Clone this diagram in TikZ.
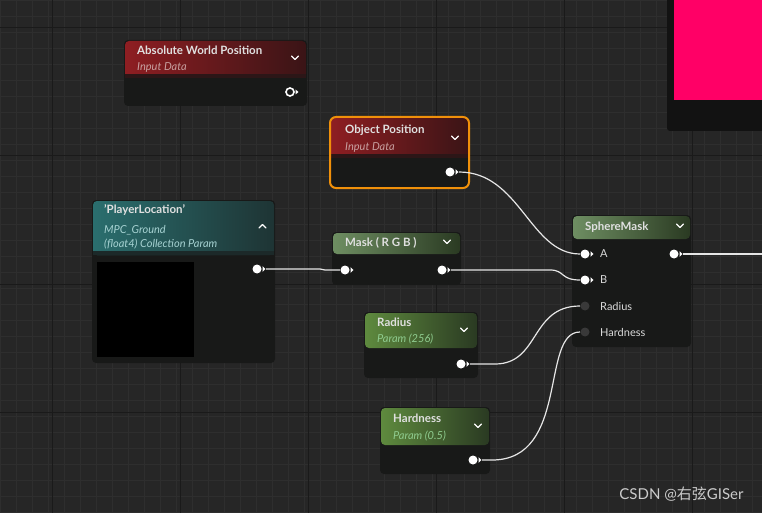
\documentclass[tikz,border=0pt]{standalone}
\usepackage{fontspec}
\setmainfont{Lato}
\newfontfamily\cjk{Noto Sans CJK SC}
\usetikzlibrary{calc}
\definecolor{bg}{HTML}{262626}
\definecolor{gminor}{HTML}{2E2E2E}
\definecolor{gmajor}{HTML}{1A1A1A}
\definecolor{body}{HTML}{181918}
\definecolor{redh}{HTML}{8E1E22}
\definecolor{redd}{HTML}{3A1416}
\definecolor{tealh}{HTML}{2A6E6E}
\definecolor{teald}{HTML}{1E3434}
\definecolor{greenh}{HTML}{5E8A3E}
\definecolor{greend}{HTML}{2A3A22}
\definecolor{mgreen}{HTML}{6E8E62}
\definecolor{sub}{HTML}{C8A0A0}
\definecolor{wire}{HTML}{E6E6E6}
\definecolor{pink}{HTML}{FF0066}
\definecolor{sel}{HTML}{F0900A}
\definecolor{prev}{HTML}{121212}
\tikzset{
  x=1pt,y=-1pt,
  title/.style={anchor=west,text=white!88!black,font=\fontsize{11.5}{13}\selectfont\bfseries,inner sep=0},
  subt/.style={anchor=west,font=\fontsize{11}{13}\selectfont\itshape,inner sep=0},
  lbl/.style={anchor=west,text=white!85!black,font=\fontsize{11}{13}\selectfont,inner sep=0},
  pin/.style={circle,fill=white,inner sep=0,minimum size=9pt},
  dpin/.style={circle,fill=gray!45!black,inner sep=0,minimum size=9pt},
  hpin/.style={circle,draw=white,line width=1.6pt,inner sep=0,minimum size=8pt},
  wireln/.style={wire,line width=1.2pt},
  chev/.style={white,line width=1.3pt,line cap=round,line join=round},
}
\newcommand\arr[1]{\fill[white] ($(#1)+(5.5,-2.8)$) -- ($(#1)+(8.5,0)$) -- ($(#1)+(5.5,2.8)$) -- cycle;}
\newcommand\dnchev[2]{\draw[chev] (#1-3.5,#2-2) -- (#1,#2+1.5) -- (#1+3.5,#2-2);}
\begin{document}
\begin{tikzpicture}
\useasboundingbox (0,0) rectangle (762,513);
\fill[bg] (0,0) rectangle (762,513);
\foreach \i in {0,16,...,762} \draw[gminor,line width=0.8pt] (\i,0) -- (\i,513);
\foreach \i in {0,16,...,513} \draw[gminor,line width=0.8pt] (0,\i) -- (762,\i);
\foreach \i in {52,180,...,762} \draw[gmajor,line width=1pt] (\i,0) -- (\i,513);
\foreach \i in {28,156,...,513} \draw[gmajor,line width=1pt] (0,\i) -- (762,\i);

% preview
\fill[prev,rounded corners=3pt] (667,-5) rectangle (775,131);
\fill[pink] (674,0) rectangle (762,100);

% Absolute World Position
\fill[body,rounded corners=4pt] (124,40) rectangle (307,106);
\shade[left color=redh,right color=redd,rounded corners=4pt] (125,41) rectangle (306,78);
\fill[redd!60!body] (125,74) rectangle (306,78);
\node[title] (awpt) at (137,50) {Absolute World Position};
\node[subt,text=sub] at (137,68) {Input Data};
\dnchev{295}{58}
\node[hpin] (awpo) at (290,92) {};
\fill[white] (295.5,89.5) -- (298.5,92) -- (295.5,94.5) -- cycle;

% Object Position
\fill[body,rounded corners=5pt] (330,117) rectangle (469,188);
\shade[left color=redh,right color=redd,rounded corners=4pt] (331,118) rectangle (468,158);
\fill[redd!60!body] (331,154) rectangle (468,158);
\draw[sel,line width=2pt,rounded corners=6pt] (330,117) rectangle (469,188);
\node[title] at (345,130) {Object Position};
\node[subt,text=sub] at (345,148) {Input Data};
\dnchev{455}{138}
\node[pin] (opo) at (450,172) {};
\arr{opo}

% PlayerLocation
\fill[body,rounded corners=4pt] (92,200) rectangle (275,363);
\shade[left color=tealh,right color=teald,rounded corners=4pt] (93,201) rectangle (274,255);
\fill[teald!60!body] (93,251) rectangle (274,255);
\node[title] at (104,210) {'PlayerLocation'};
\node[subt,text=white!65!teal] at (104,230) {MPC\_Ground};
\node[subt,text=white!65!teal] at (104,244) {(float4) Collection Param};
\draw[chev] (259,228) -- (262.5,224.5) -- (266,228);
\fill[black] (97,262) rectangle (194,357);
\node[pin] (plo) at (257,269) {};
\arr{plo}

% Mask
\fill[body,rounded corners=4pt] (332,232) rectangle (461,285);
\shade[left color=mgreen,right color=greend,rounded corners=4pt] (333,233) rectangle (460,254);
\node[title] at (345,243) {Mask ( R G B )};
\dnchev{447}{242}
\node[pin] (mki) at (345,270) {};
\arr{mki}
\node[pin] (mko) at (442,270) {};
\arr{mko}

% SphereMask
\fill[body,rounded corners=4pt] (572,215) rectangle (691,347);
\shade[left color=mgreen,right color=greend,rounded corners=4pt] (573,216) rectangle (690,239);
\node[title] at (585,227) {SphereMask};
\dnchev{680}{226}
\node[pin] (smo) at (674,254) {};
\arr{smo}
\node[pin] (sma) at (585,254) {};
\arr{sma}
\node[lbl] at (600,254) {A};
\node[pin] (smb) at (585,280) {};
\arr{smb}
\node[lbl] at (600,280) {B};
\node[dpin] (smr) at (585,306) {};
\node[lbl] at (600,306) {Radius};
\node[dpin] (smh) at (585,332) {};
\node[lbl] at (600,332) {Hardness};

% Radius
\fill[body,rounded corners=4pt] (364,312) rectangle (478,378);
\shade[left color=greenh,right color=greend,rounded corners=4pt] (365,313) rectangle (477,348);
\node[title] at (377,322) {Radius};
\node[subt,text=white!70!green!80!black] at (377,339) {Param (256)};
\dnchev{464}{330}
\node[pin] (rdo) at (461,364) {};
\arr{rdo}

% Hardness
\fill[body,rounded corners=4pt] (380,407) rectangle (490,474);
\shade[left color=greenh,right color=greend,rounded corners=4pt] (381,408) rectangle (489,445);
\node[title] at (393,418) {Hardness};
\node[subt,text=white!70!green!80!black] at (393,436) {Param (0.5)};
\dnchev{478}{426}
\node[pin] (hdo) at (473,460) {};
\arr{hdo}

\coordinate (redge) at (762,254);
% wires
\draw[wireln] ($(opo)+(9,0)$) .. controls (520,172) and (530,254) .. ($(sma)-(5,0)$);
\draw[wireln] ($(plo)+(9,0)$) -- (320,269) -- (325,270) -- ($(mki)-(5,0)$);
\draw[wireln] ($(mko)+(9,0)$) -- (550,270) .. controls (565,270) and (560,280) .. ($(smb)-(5,0)$);
\draw[wireln] ($(rdo)+(9,0)$) -- (495,364) .. controls (540,364) and (530,306) .. ($(smr)-(5,0)$);
\draw[wireln] ($(hdo)+(9,0)$) -- (492,460) .. controls (570,460) and (540,332) .. ($(smh)-(5,0)$);
\draw[wireln] ($(smo)+(9,0)$) -- (redge);

\node[anchor=east,text=white!80!black,font=\fontsize{15}{17}\selectfont] at (747,494) {CSDN @{\cjk 右弦}GISer};
\end{tikzpicture}
\end{document}
